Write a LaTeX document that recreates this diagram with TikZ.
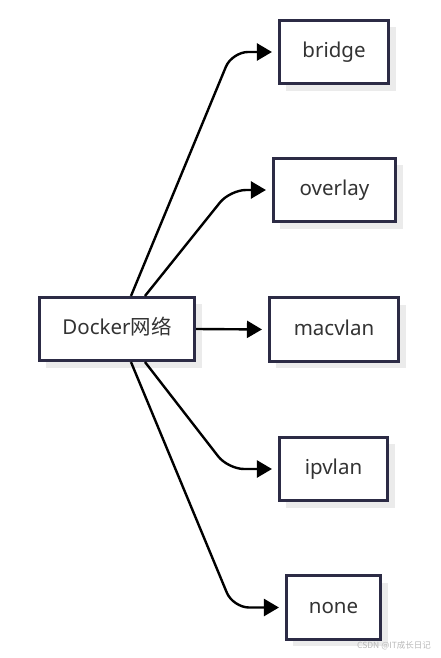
\documentclass[tikz,border=0pt]{standalone}
\usepackage{fontspec}
\setmainfont{Noto Sans}
\newfontfamily\cjk{Noto Sans CJK SC}
\usetikzlibrary{arrows.meta,calc,shadows}
\definecolor{boxline}{HTML}{2C2B45}
\definecolor{txt}{HTML}{333333}
\definecolor{shade}{HTML}{EBEBEB}
\begin{document}
\begin{tikzpicture}[x=1pt,y=-1pt,
  box/.style={draw=boxline,line width=2.6pt,fill=white,inner sep=0pt,
    minimum height=63.5pt,text=txt,font=\fontsize{20.5}{24}\selectfont,
    text height=14.5pt,text depth=3.5pt,
    drop shadow={shadow xshift=7pt,shadow yshift=-7pt,fill=shade,opacity=1}},
  edge/.style={line width=2.4pt,rounded corners=16pt,
    -{Triangle[length=15pt,width=17pt]},shorten >=6pt}]
\useasboundingbox (0,0) rectangle (440,658);
\node[box,minimum width=155.5pt] (dk) at (117,329) {Docker{\cjk 网络}};
\node[box,minimum width=109.5pt] (br) at (334,52) {bridge};
\node[box,minimum width=122.5pt] (ov) at (334.5,190) {overlay};
\node[box,minimum width=129.5pt] (mv) at (334,329.5) {macvlan};
\node[box,minimum width=108.5pt] (ip) at (333.5,469) {ipvlan};
\node[box,minimum width=94.5pt] (nn) at (333.5,607.5) {none};
\coordinate (c1) at (232,52);
\coordinate (c2) at (230,190);
\coordinate (c4) at (228,469);
\coordinate (c5) at (233,607.5);
\draw[edge] ($(dk.north)+(14,0)$) -- (c1) -- (br.west);
\draw[edge] ($(dk.north)+(28,0)$) -- (c2) -- (ov.west);
\draw[edge] (dk.east) -- (mv.west);
\draw[edge] ($(dk.south)+(28,0)$) -- (c4) -- (ip.west);
\draw[edge] ($(dk.south)+(14,0)$) -- (c5) -- (nn.west);
\node[text=black!28,font=\cjk\fontsize{8.5}{10}\selectfont,inner sep=0pt] (wm) at (394,646) {CSDN @IT成长日记};
\end{tikzpicture}
\end{document}
